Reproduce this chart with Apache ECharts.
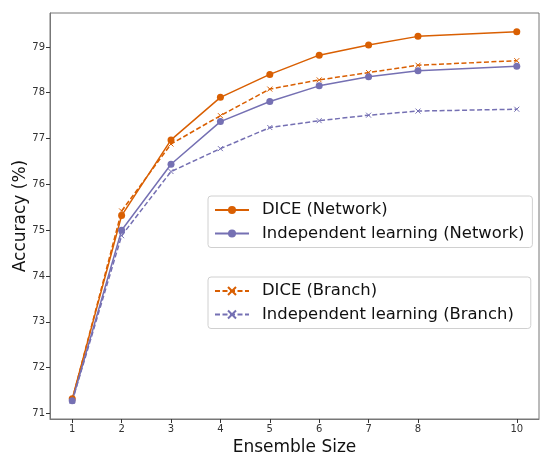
<!DOCTYPE html>
<html lang="en">

<head>
    <meta charset="UTF-8">
    <title>Ensemble Size vs Accuracy</title>
    <style>
        * {
            margin: 0;
            padding: 0;
        }

        #chart {
            width: 554px;
            height: 470px;
        }
    </style>
</head>

<body>
    <div id="chart"></div>

    <script src="https://cdn.jsdelivr.net/npm/echarts@6/dist/echarts.min.js"></script>
    <script>
        // ensemble sizes (9 is not in the figure)
        var sizes = [1, 2, 3, 4, 5, 6, 7, 8, 10];
        var xTicks = [1, 2, 3, 4, 5, 6, 7, 8, 10];
        var yTicks = [71, 72, 73, 74, 75, 76, 77, 78, 79];

        var diceNetwork = [71.32, 75.32, 76.97, 77.90, 78.40, 78.82, 79.04, 79.23, 79.33];
        var indepNetwork = [71.28, 75.00, 76.44, 77.37, 77.81, 78.15, 78.35, 78.48, 78.58];
        var diceBranch = [71.30, 75.42, 76.88, 77.50, 78.08, 78.28, 78.44, 78.60, 78.70];
        var indepBranch = [71.27, 74.88, 76.28, 76.78, 77.24, 77.39, 77.51, 77.60, 77.64];

        var orange = '#d95f02';
        var purple = '#7570b3';
        var cross = 'path://M0,0L10,10M10,0L0,10';
        var font = 'DejaVu Sans';

        function pairs(vals) {
            return sizes.map(function (s, i) {
                return [s, vals[i]];
            });
        }

        function solid(name, vals, color) {
            return {
                name: name,
                type: 'line',
                data: pairs(vals),
                symbol: 'circle',
                symbolSize: 7,
                lineStyle: { color: color, width: 1.5 },
                itemStyle: { color: color },
                emphasis: { disabled: true },
                z: 3
            };
        }

        function dashed(name, vals, color) {
            return {
                name: name,
                type: 'line',
                data: pairs(vals),
                symbol: cross,
                symbolSize: 5,
                lineStyle: { color: color, width: 1.5, type: [5, 2.5] },
                itemStyle: { color: color, borderColor: color, borderWidth: 1 },
                emphasis: { disabled: true },
                z: 2
            };
        }

        var legendBox = {
            orient: 'vertical',
            left: 208,
            itemWidth: 34,
            itemHeight: 10,
            itemGap: 7.5,
            backgroundColor: '#fff',
            borderColor: '#d0d0d0',
            borderWidth: 1,
            borderRadius: 3,
            textStyle: { fontFamily: font, fontSize: 16.4, color: '#111', padding: [0, 0, 0, 8] }
        };

        var chart = echarts.init(document.getElementById('chart'));
        var option = {
            animation: false,
            grid: {
                left: 50,
                top: 13,
                right: 15,
                bottom: 51,
                outerBoundsMode: 'none',
                show: true,
                borderColor: '#777',
                borderWidth: 1
            },
            legend: [
                Object.assign({}, legendBox, {
                    top: 196,
                    padding: [6, 8, 6, 6],
                    data: ['DICE (Network)', 'Independent learning (Network)']
                }),
                Object.assign({}, legendBox, {
                    top: 277,
                    padding: [6, 17, 6, 6],
                    data: ['DICE (Branch)', 'Independent learning (Branch)']
                })
            ],
            xAxis: {
                type: 'value',
                min: 0.55,
                max: 10.45,
                name: 'Ensemble Size',
                nameLocation: 'middle',
                nameGap: 18,
                nameTextStyle: { fontFamily: font, fontSize: 17, color: '#111' },
                axisLine: { lineStyle: { color: '#777' } },
                axisTick: { length: 4, lineStyle: { color: '#333' }, customValues: xTicks },
                axisLabel: { fontFamily: font, fontSize: 10, color: '#333', margin: 5, customValues: xTicks },
                splitLine: { show: false }
            },
            yAxis: {
                type: 'value',
                min: 70.88,
                max: 79.74,
                name: 'Accuracy (%)',
                nameLocation: 'middle',
                nameGap: 21,
                nameMoveOverlap: false,
                nameTextStyle: { fontFamily: font, fontSize: 17, color: '#111' },
                axisLine: { show: true, lineStyle: { color: '#777' } },
                axisTick: { show: true, length: 4, lineStyle: { color: '#333' }, customValues: yTicks },
                axisLabel: { fontFamily: font, fontSize: 10, color: '#333', margin: 5, customValues: yTicks },
                splitLine: { show: false }
            },
            series: [
                solid('DICE (Network)', diceNetwork, orange),
                solid('Independent learning (Network)', indepNetwork, purple),
                dashed('DICE (Branch)', diceBranch, orange),
                dashed('Independent learning (Branch)', indepBranch, purple)
            ]
        };
        chart.setOption(option);
    </script>
</body>

</html>
